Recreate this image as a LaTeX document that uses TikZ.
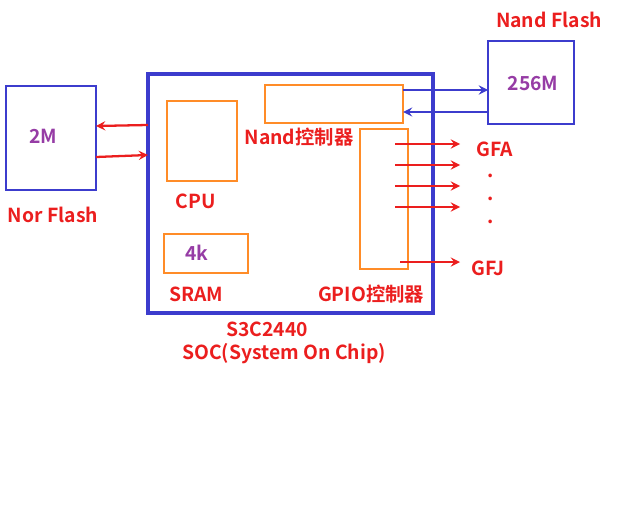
\documentclass[tikz,border=0pt]{standalone}
\usepackage{fontspec}
\setmainfont{Noto Sans CJK SC}[BoldFont={* Bold}]
\definecolor{bl}{RGB}{60,60,205}
\definecolor{og}{RGB}{255,140,40}
\definecolor{rd}{RGB}{235,30,30}
\definecolor{pu}{RGB}{150,60,165}
\begin{document}
\begin{tikzpicture}[x=0.02cm,y=-0.02cm,
  bbox/.style={draw=bl,line width=1.5pt},
  obox/.style={draw=og,line width=1.5pt},
  lab/.style={text=rd,font=\fontsize{11}{13}\selectfont\bfseries,inner sep=0},
  plab/.style={text=pu,font=\fontsize{11}{13}\selectfont\bfseries,inner sep=0},
  rar/.style={draw=rd,line width=1.3pt,-stealth},
  bar/.style={draw=bl,line width=1.3pt,-stealth}]
\useasboundingbox (0,0) rectangle (643,507);
% boxes
\draw[bbox] (6,86) rectangle (96,190);
\draw[bbox,line width=2pt] (148,74) rectangle (433,313);
\draw[obox] (167,101) rectangle (237,181);
\draw[obox] (164,234) rectangle (248,273);
\draw[obox] (265,85) rectangle (403,123);
\draw[obox] (360,129) rectangle (408,269);
\draw[bbox] (488,41) rectangle (574,124);
% labels
\node[plab] (nor) at (43,136) {2M};
\node[lab] (norl) at (53,215) {Nor Flash};
\node[lab] (cpu) at (196,201) {CPU};
\node[plab] (sram) at (197,253) {4k};
\node[lab] (sraml) at (196,294) {SRAM};
\node[lab] (nandc) at (299,137) {Nand控制器};
\node[lab] (gpioc) at (371,294) {GPIO控制器};
\node[plab] (nand) at (533,83) {256M};
\node[lab] (nandl) at (549,20) {Nand Flash};
\node[lab] (gfa) at (495,149) {GFA};
\node[lab] (d1) at (491,176) {.};
\node[lab] (d2) at (491,199) {.};
\node[lab] (d3) at (491,222) {.};
\node[lab] (gfj) at (488,268) {GFJ};
\node[lab] (soc1) at (267,329) {S3C2440};
\node[lab] (soc2) at (284,354) {SOC(System On Chip)};
% connectors
\coordinate (a1) at (148,125); \coordinate (a2) at (96,126);
\coordinate (b1) at (96,157); \coordinate (b2) at (148,155);
\draw[rar] (a1) -- (a2);
\draw[rar] (b1) -- (b2);
\coordinate (n1) at (403,90); \coordinate (n2) at (488,90);
\coordinate (m1) at (488,112); \coordinate (m2) at (403,112);
\draw[bar] (n1) -- (n2);
\draw[bar] (m1) -- (m2);
\foreach \y in {144,165,186,207} \draw[rar] (395,\y) -- (460,\y);
\draw[rar] (400,262) -- (460,262);
\end{tikzpicture}
\end{document}
